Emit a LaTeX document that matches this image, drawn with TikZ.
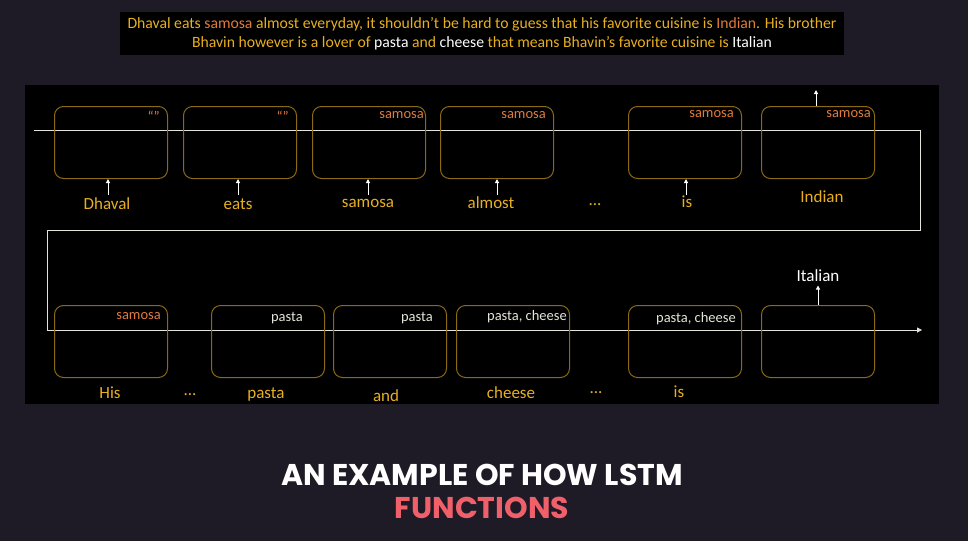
\documentclass[tikz,border=0pt]{standalone}
\usepackage{fontspec}
\setmainfont{Carlito}
\newfontfamily\titlefont{Poppins}
\usetikzlibrary{arrows.meta}
\definecolor{bg}{HTML}{1E1B26}
\definecolor{gold}{HTML}{E8B020}
\definecolor{boxc}{HTML}{8A6A14}
\definecolor{orng}{HTML}{E07B3A}
\definecolor{wht}{HTML}{E4E4DA}
\definecolor{pink}{HTML}{F0606A}
\begin{document}
\begin{tikzpicture}[x=1pt,y=-1pt,
  cell/.style={draw=boxc,line width=1pt,rounded corners=9pt,minimum width=113pt,minimum height=72pt,inner sep=0pt,anchor=north west},
  word/.style={text=gold,font=\fontsize{17}{17}\selectfont},
  mem/.style={font=\fontsize{14.5}{14.5}\selectfont,anchor=north east,inner sep=0pt},
  flow/.style={draw=wht,line width=1pt},
  ttl/.style={font=\titlefont\bfseries\fontsize{30}{30}\selectfont},
  up/.style={draw=white,line width=1pt,-{Triangle[length=4pt,width=4pt]}}]
\fill[bg] (0,0) rectangle (968,541);
\useasboundingbox (0,0) rectangle (968,541);
\fill[black] (120,12) rectangle (844,55);
\fill[black] (25,85) rectangle (939,404);
\node[font=\fontsize{15.7}{19}\selectfont,align=center,text=gold] (cap) at (482,34) {Dhaval eats \textcolor{orng}{samosa} almost everyday, it shouldn’t be hard to guess that his favorite cuisine is \textcolor{orng}{Indian}. His brother\\Bhavin however is a lover of \textcolor{white}{pasta} and \textcolor{white}{cheese} that means Bhavin’s favorite cuisine is \textcolor{white}{Italian}};
% flow line
\coordinate (s) at (34,130);
\coordinate (c1) at (920,130);
\coordinate (c2) at (920,230);
\coordinate (c3) at (47,230);
\coordinate (c4) at (47,330);
\coordinate (e) at (922,330);
\draw[flow] (s) -- (c1) -- (c2) -- (c3) -- (c4);
\draw[flow,-{Triangle[length=5pt,width=5pt]}] (c4) -- (e);
% boxes
\foreach \n/\x in {t1/54,t2/183,t3/312,t4/440,t5/628,t6/761}{\node[cell] (\n) at (\x,106) {};}
\foreach \n/\x in {b1/54,b2/211,b3/333,b4/456,b5/628,b6/761}{\node[cell] (\n) at (\x,305) {};}
\node[mem,text=orng] (m1) at ([shift={(-8,5)}]t1.north east) {“”};
\node[mem,text=orng] (m2) at ([shift={(-8,5)}]t2.north east) {“”};
\node[mem,text=orng] (m3) at ([shift={(-2,5)}]t3.north east) {samosa};
\node[mem,text=orng] (m4) at ([shift={(-8,5)}]t4.north east) {samosa};
\node[mem,text=orng] (m5) at ([shift={(-8,4)}]t5.north east) {samosa};
\node[mem,text=orng] (m6) at ([shift={(-4,4)}]t6.north east) {samosa};
\node[mem,text=orng] (n1) at ([shift={(-7,7)}]b1.north east) {samosa};
\node[mem,text=wht] (n2) at ([shift={(-22,7)}]b2.north east) {pasta};
\node[mem,text=wht] (n3) at ([shift={(-14,7)}]b3.north east) {pasta};
\node[mem,text=wht] (n4) at ([shift={(-3,5)}]b4.north east) {pasta, cheese};
\node[mem,text=wht] (n5) at ([shift={(-6,7)}]b5.north east) {pasta, cheese};
% words
\node[word] (w1) at (107,204) {Dhaval};
\node[word] (w2) at (238,204) {eats};
\node[word] (w3) at (368,203) {samosa};
\node[word] (w4) at (491,203) {almost};
\node[word] (d1) at (595,205) {...};
\node[word] (w5) at (687,202) {is};
\node[word] (w6) at (822,197) {Indian};
\node[word] (v1) at (110,393) {His};
\node[word] (d2) at (190,395) {...};
\node[word] (v2) at (266,394) {pasta};
\node[word] (v3) at (386,396) {and};
\node[word] (v4) at (511,393) {cheese};
\node[word] (d3) at (596,393) {...};
\node[word] (v5) at (679,392) {is};
\node[text=white,font=\fontsize{17}{17}\selectfont] (it) at (818,276) {Italian};
% input arrows
\foreach \x in {108,238,368,497,686}{
  \draw[up] (\x,195) -- (\x,179);}
\coordinate (o1) at (816,90);
\draw[up] (t6.north -| o1) -- (o1);
\draw[up] (b6.north -| it.south) -- (it.south);
% title
\node[ttl,text=white] (title1) at (482,475) {AN EXAMPLE OF HOW LSTM};
\node[ttl,text=pink] (title2) at (482,508) {FUNCTIONS};
\end{tikzpicture}
\end{document}
